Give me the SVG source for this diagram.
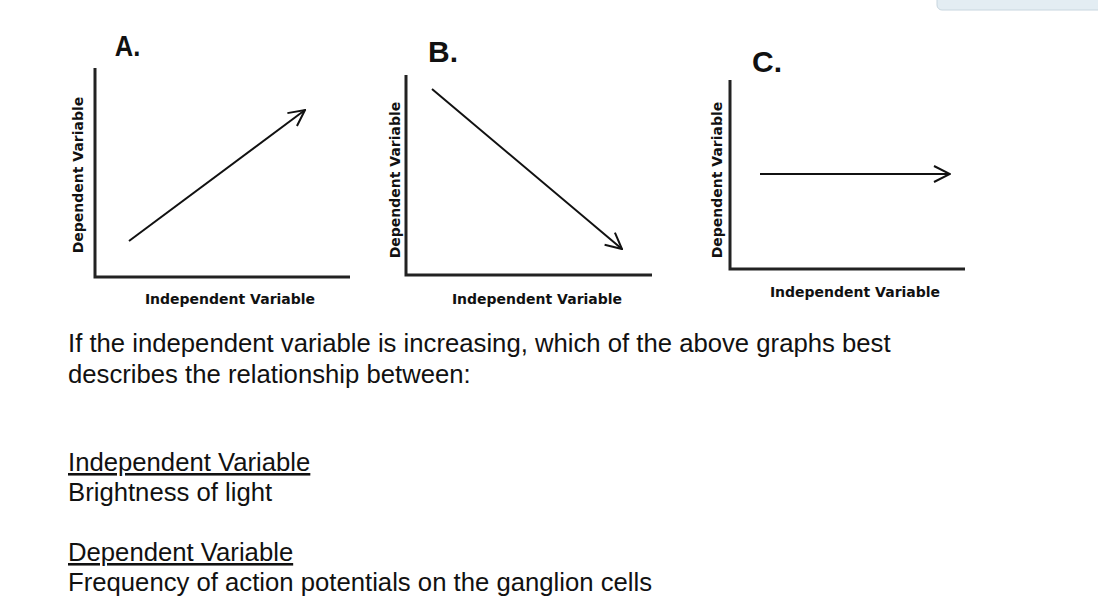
<svg xmlns="http://www.w3.org/2000/svg" width="1098" height="616" viewBox="0 0 1098 616">
<style>
.ax{stroke:#222;stroke-width:3;fill:none}
.ln{stroke:#111;stroke-width:2;fill:none}
.lab{font-family:"Liberation Sans",Arial,sans-serif;font-size:30px;font-weight:bold;fill:#111}
.g{font-family:"DejaVu Sans",sans-serif;font-size:14px;font-weight:bold;fill:#111;text-anchor:middle}
.t{font-family:"Liberation Sans",Arial,sans-serif;font-size:25.7px;fill:#111}
</style>
<defs><marker id="ar" viewBox="0 0 20 20" refX="19" refY="10" markerWidth="20" markerHeight="20" markerUnits="userSpaceOnUse" orient="auto"><path d="M3,2 L19,10 L3,18" stroke="#111" stroke-width="2" fill="none"/></marker></defs>
<rect x="937" y="-10" width="170" height="20" rx="5" fill="#e3edf3" stroke="#c8d6df"/>
<g id="graphA">
<text class="lab" x="115" y="56" transform="scale(0.85,1) translate(20,0)">A.</text>
<path class="ax" d="M95,68 V277 H350"/>
<text class="g" transform="translate(83,175) rotate(-90)">Dependent Variable</text>
<text class="g" x="230" y="304">Independent Variable</text>
</g>
<g id="graphB">
<text class="lab" x="428" y="62">B.</text>
<path class="ax" d="M406,75 V275 H652"/>
<text class="g" transform="translate(400,180) rotate(-90)">Dependent Variable</text>
<text class="g" x="537" y="304">Independent Variable</text>
</g>
<g id="graphC">
<text class="lab" x="752" y="72">C.</text>
<path class="ax" d="M730,80 V269 H965"/>
<text class="g" transform="translate(722,180) rotate(-90)">Dependent Variable</text>
<text class="g" x="855" y="297">Independent Variable</text>
</g>
<g id="connectors">
<line class="ln" x1="129" y1="241" x2="305" y2="110" marker-end="url(#ar)"/>
<line class="ln" x1="432" y1="89" x2="622" y2="249" marker-end="url(#ar)"/>
<line class="ln" x1="760" y1="174" x2="950" y2="174" marker-end="url(#ar)"/>
</g>
<text class="t" x="68" y="352">If the independent variable is increasing, which of the above graphs best</text>
<text class="t" x="68" y="383">describes the relationship between:</text>
<text class="t" x="68" y="471" text-decoration="underline">Independent Variable</text>
<text class="t" x="68" y="501">Brightness of light</text>
<text class="t" x="68" y="561" text-decoration="underline">Dependent Variable</text>
<text class="t" x="68" y="591">Frequency of action potentials on the ganglion cells</text>
</svg>
